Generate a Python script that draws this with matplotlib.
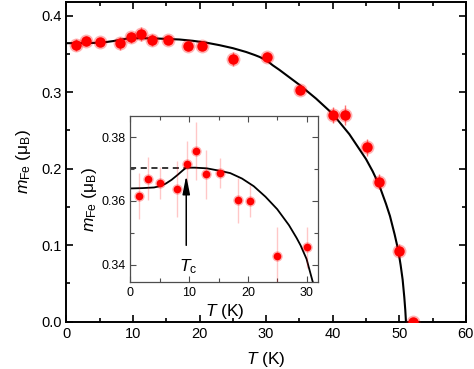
import matplotlib
matplotlib.use("Agg")
import matplotlib.pyplot as plt
from matplotlib.ticker import MultipleLocator

plt.rcParams['font.family'] = ['Liberation Sans', 'DejaVu Sans']
plt.rcParams['mathtext.fontset'] = 'custom'
plt.rcParams['mathtext.rm'] = 'Liberation Sans'
plt.rcParams['mathtext.it'] = 'Liberation Sans:italic'

T = [1.5, 3.0, 5.1, 8.0, 9.7, 11.2, 12.9, 15.2, 18.3, 20.3, 25.0, 30.1,
     35.1, 40.1, 41.8, 45.2, 47.0, 50.0, 52.1]
m = [0.3615, 0.3670, 0.3657, 0.3637, 0.3717, 0.3756, 0.3683, 0.3686, 0.3602,
     0.3600, 0.3427, 0.3454, 0.303, 0.270, 0.270, 0.228, 0.183, 0.093, 0.0]
m_err = [0.0073, 0.0068, 0.005, 0.0089, 0.007, 0.009, 0.0077, 0.0047, 0.007,
         0.005, 0.0092, 0.0065, 0.004, 0.010, 0.013, 0.011, 0.010, 0.008, 0.004]

# model curve
T_fit = [0, 2, 4, 5, 6, 7, 8, 9, 9.5, 11, 13, 15, 17, 19, 21, 23, 25, 27,
         28.3, 29, 30, 31, 32, 33, 35, 37.5, 40, 42.5, 45, 46, 47, 48, 48.6,
         49.3, 49.85, 50.2, 50.5, 50.75, 50.9, 51]
m_fit = [0.3639, 0.3640, 0.3642, 0.3646, 0.3654, 0.3666, 0.3681, 0.3697,
         0.3704, 0.3704, 0.3702, 0.3695, 0.3687, 0.3670, 0.3646, 0.3613,
         0.3574, 0.3524, 0.3484, 0.3460, 0.3418, 0.3350, 0.3290, 0.3225,
         0.3095, 0.2915, 0.2715, 0.2450, 0.2125, 0.1965, 0.1780, 0.1540,
         0.1380, 0.1140, 0.0930, 0.0740, 0.0550, 0.0320, 0.0150, 0.0]

Tc = 9.5
m_Tc = 0.3704
n_in = 12  # points shown in the inset

fig = plt.figure(figsize=(4.74, 3.69), dpi=100)

# main panel
ax = fig.add_axes([0.1399, 0.1282, 0.843, 0.867])
ax.plot(T_fit, m_fit, color='k', lw=1.5, zorder=2)
ax.errorbar(T, m, yerr=m_err, fmt='none', ecolor=(1, 0, 0, 0.55),
            elinewidth=1.0, zorder=3)
ax.plot(T, m, 'o', color='red', ms=10, alpha=0.3, mec='none', zorder=4)
ax.plot(T, m, 'o', color='red', ms=7.5, mec='none', zorder=5)
ax.set_xlim(0, 60)
ax.set_ylim(0, 0.418)
ax.xaxis.set_major_locator(MultipleLocator(10))
ax.xaxis.set_minor_locator(MultipleLocator(5))
ax.yaxis.set_major_locator(MultipleLocator(0.1))
ax.yaxis.set_minor_locator(MultipleLocator(0.05))
ax.tick_params(which='both', direction='in', top=True, right=True,
               labelsize=10.5, width=1.2)
ax.tick_params(which='major', length=5)
ax.tick_params(which='minor', length=3)
for s in ax.spines.values():
    s.set_linewidth(1.4)
ax.set_xlabel(r'$T$ (K)', fontsize=12.5, labelpad=7)
ax.set_ylabel(r'$m_{\mathrm{Fe}}$ (μ$_{\mathrm{B}}$)', fontsize=12.5, labelpad=6)

# inset
ax_in = fig.add_axes([0.2753, 0.2350, 0.3962, 0.4507])
ax_in.plot(T_fit, m_fit, color='k', lw=1.3, zorder=2)
ax_in.plot([0, Tc], [m_Tc, m_Tc], color='k', lw=1.1, ls=(0, (4, 3)), zorder=2)
ax_in.errorbar(T[:n_in], m[:n_in], yerr=m_err[:n_in], fmt='none',
               ecolor=(1, 0, 0, 0.22), elinewidth=1.0, zorder=3)
ax_in.plot(T[:n_in], m[:n_in], 'o', color='red', ms=7.5, alpha=0.3,
           mec='none', zorder=4)
ax_in.plot(T[:n_in], m[:n_in], 'o', color='red', ms=5.5, mec='none', zorder=5)
ax_in.annotate('', xy=(Tc, 0.3688), xytext=(Tc, 0.3452),
               arrowprops=dict(arrowstyle='-|>,head_length=1.1,head_width=0.22',
                               color='k', lw=1.1))
ax_in.text(Tc + 0.4, 0.3394, r'$T_{\mathrm{c}}$', fontsize=12.5,
           ha='center', va='center')
ax_in.set_xlim(0, 32)
ax_in.set_ylim(0.3345, 0.3866)
ax_in.xaxis.set_major_locator(MultipleLocator(10))
ax_in.xaxis.set_minor_locator(MultipleLocator(5))
ax_in.yaxis.set_major_locator(MultipleLocator(0.02))
ax_in.yaxis.set_minor_locator(MultipleLocator(0.01))
ax_in.tick_params(which='both', direction='in', top=True, right=True,
                  labelsize=9, width=0.8, color='0.3')
ax_in.tick_params(which='major', length=4)
ax_in.tick_params(which='minor', length=3)
for s in ax_in.spines.values():
    s.set_linewidth(0.9)
    s.set_color('0.3')
ax_in.set_xlabel(r'$T$ (K)', fontsize=12.5, labelpad=2)
ax_in.set_ylabel(r'$m_{\mathrm{Fe}}$ (μ$_{\mathrm{B}}$)', fontsize=12.5, labelpad=2)

fig.savefig('out.png', dpi=100)
